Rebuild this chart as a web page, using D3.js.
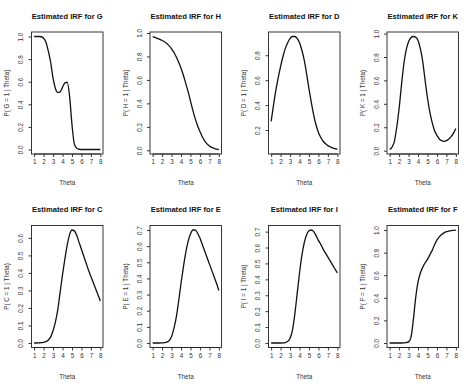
<!DOCTYPE html>
<html><head><meta charset="utf-8">
<script src="https://cdn.jsdelivr.net/npm/d3@7"></script>
<style>html,body{margin:0;padding:0;background:#fff;}svg{display:block;}</style>
</head><body>
<script>
const items = ["G","H","D","K","C","E","I","F"];
const theta = [1,1.25,1.5,1.75,2,2.25,2.5,2.75,3,3.25,3.5,3.75,4,4.25,4.5,4.75,5,5.25,5.5,5.75,6,6.25,6.5,6.75,7,7.25,7.5,7.75,8];
const irfG = [1,1,1,0.998,0.985,0.95,0.87,0.77,0.63,0.54,0.505,0.51,0.55,0.59,0.595,0.47,0.22,0.05,0.01,0.002,0,0,0,0,0,0,0,0,0];
const irfH = [0.97,0.963,0.955,0.946,0.936,0.925,0.91,0.89,0.865,0.835,0.795,0.75,0.70,0.64,0.57,0.50,0.42,0.34,0.27,0.21,0.16,0.115,0.08,0.055,0.037,0.025,0.016,0.01,0.007];
const irfD = [0.27,0.40,0.52,0.62,0.71,0.79,0.855,0.90,0.935,0.95,0.95,0.935,0.90,0.84,0.76,0.65,0.53,0.42,0.32,0.24,0.18,0.14,0.11,0.09,0.075,0.065,0.057,0.05,0.044];
const irfK = [0.01,0.03,0.08,0.2,0.36,0.56,0.74,0.86,0.93,0.965,0.975,0.97,0.94,0.87,0.76,0.6,0.45,0.33,0.24,0.17,0.13,0.1,0.085,0.08,0.085,0.1,0.12,0.15,0.19];
const irfC = [0,0,0.001,0.002,0.004,0.008,0.017,0.035,0.07,0.12,0.19,0.29,0.39,0.48,0.56,0.62,0.645,0.64,0.615,0.575,0.535,0.495,0.455,0.415,0.38,0.345,0.31,0.275,0.24];
const irfE = [0,0,0,0,0.001,0.002,0.005,0.015,0.04,0.09,0.16,0.26,0.37,0.47,0.56,0.63,0.675,0.70,0.70,0.68,0.65,0.61,0.57,0.53,0.49,0.45,0.41,0.37,0.325];
const irfI = [0,0,0,0,0,0.001,0.003,0.01,0.03,0.08,0.18,0.31,0.44,0.55,0.63,0.68,0.705,0.71,0.70,0.675,0.645,0.62,0.59,0.565,0.54,0.515,0.49,0.465,0.44];
const irfF = [0,0,0,0,0,0,0.001,0.003,0.01,0.05,0.2,0.4,0.54,0.62,0.67,0.71,0.74,0.78,0.82,0.87,0.91,0.94,0.96,0.975,0.985,0.99,0.995,0.997,1.0];
const series = [irfG, irfH, irfD, irfK, irfC, irfE, irfI, irfF];
const xTicks = [1,2,3,4,5,6,7,8];
const yTicksG = [0,0.2,0.4,0.6,0.8,1.0];
const yTicksH = [0,0.2,0.4,0.6,0.8,1.0];
const yTicksD = [0.2,0.4,0.6,0.8];
const yTicksK = [0,0.2,0.4,0.6,0.8,1.0];
const yTicksC = [0,0.1,0.2,0.3,0.4,0.5,0.6];
const yTicksE = [0,0.1,0.2,0.3,0.4,0.5,0.6,0.7];
const yTicksI = [0,0.1,0.2,0.3,0.4,0.5,0.6,0.7];
const yTicksF = [0,0.2,0.4,0.6,0.8,1.0];
const yTicks = [yTicksG, yTicksH, yTicksD, yTicksK, yTicksC, yTicksE, yTicksI, yTicksF];

const W = 474, H = 387;
const svg = d3.select("body").append("svg").attr("width", W).attr("height", H)
  .style("font-family", "'Liberation Sans', Arial, Helvetica, sans-serif");

const cellW = W / 4, cellH = H / 2;
const font = 6.3;

items.forEach((name, k) => {
  const col = k % 4, row = Math.floor(k / 4);
  const left = col * cellW + 31.5, top = row * cellH + 32;
  const w = 71.5, h = 122;
  const vals = series[k];
  const ext = d3.extent(vals);
  const r = ext[1] - ext[0];
  const x = d3.scaleLinear().domain([1 - 0.04 * 7, 8 + 0.04 * 7]).range([left, left + w]);
  const y = d3.scaleLinear().domain([ext[0] - 0.04 * r, ext[1] + 0.04 * r]).range([top + h, top]);
  const g = svg.append("g");

  const line = d3.line().x((d, i) => x(theta[i])).y(d => y(d)).curve(d3.curveMonotoneX);
  g.append("path").datum(vals).attr("d", line).attr("fill", "none")
    .attr("stroke", "#111").attr("stroke-width", 1.3);

  g.append("rect").attr("x", left).attr("y", top).attr("width", w).attr("height", h)
    .attr("fill", "none").attr("stroke", "#222").attr("stroke-width", 0.9);

  const xa = g.append("g").attr("transform", `translate(0,${top + h})`)
    .call(d3.axisBottom(x).tickValues(xTicks).tickSize(3).tickPadding(3).tickFormat(d3.format("d")));
  xa.select(".domain").attr("d", `M${x(1)},0H${x(8)}`).attr("stroke", "#222").attr("stroke-width", 0.9);
  xa.selectAll("line").attr("stroke", "#222").attr("stroke-width", 0.9);
  xa.selectAll("text").attr("font-size", font).attr("fill", "#333").attr("font-family", null);

  const ya = g.append("g").attr("transform", `translate(${left},0)`)
    .call(d3.axisLeft(y).tickValues(yTicks[k]).tickSize(3).tickFormat(d3.format(".1f")));
  ya.select(".domain").remove();
  ya.selectAll("line").attr("stroke", "#222").attr("stroke-width", 0.9);
  ya.selectAll("text").remove();
  ya.selectAll(".tick").append("text")
    .attr("transform", "translate(-8.5,0) rotate(-90)")
    .attr("text-anchor", "middle").attr("dy", 0)
    .attr("font-size", font).attr("fill", "#333")
    .text(d => d3.format(".1f")(d));

  g.append("text").attr("x", left + w / 2).attr("y", row * cellH + 18.5)
    .attr("text-anchor", "middle").attr("font-weight", "bold").attr("font-size", 7.6)
    .attr("fill", "#111").text("Estimated IRF for " + name);

  g.append("text").attr("x", left + w / 2).attr("y", top + h + 31)
    .attr("text-anchor", "middle").attr("font-size", font).attr("fill", "#333").text("Theta");

  g.append("text").attr("transform", `translate(${col * cellW + 9},${top + h / 2}) rotate(-90)`)
    .attr("text-anchor", "middle").attr("font-size", font).attr("fill", "#333")
    .text(`P( ${name} = 1 | Theta)`);
});
</script>
</body></html>
